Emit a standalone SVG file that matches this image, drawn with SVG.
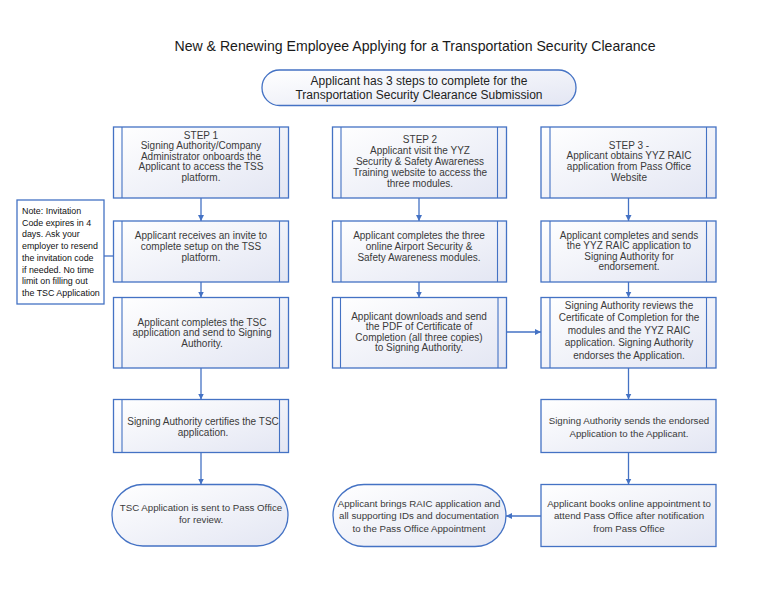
<svg xmlns="http://www.w3.org/2000/svg" width="768" height="594" viewBox="0 0 768 594">
<defs>
<linearGradient id="g" x1="0" y1="0" x2="1" y2="1">
<stop offset="0" stop-color="#ffffff"/>
<stop offset="1" stop-color="#e3e6f3"/>
</linearGradient>
<marker id="ah" markerWidth="8" markerHeight="8" refX="6" refY="3.5" orient="auto" markerUnits="userSpaceOnUse">
<path d="M0,0.5 L6,3.5 L0,6.5 Z" fill="#4472c4"/>
</marker>
<style>
.box{fill:url(#g);stroke:#4472c4;stroke-width:1.3}
.in{stroke:#4472c4;stroke-width:1.1;fill:none}
.t{font-family:"Liberation Sans",Arial,sans-serif;font-size:10px;fill:#3a3a3a;text-anchor:middle}
.s{font-size:9.7px}
.note{font-family:"Liberation Sans",Arial,sans-serif;font-size:8.9px;fill:#111}
.c{stroke:#4472c4;stroke-width:1.3;fill:none}
.ca{stroke:#4472c4;stroke-width:1.3;fill:none;marker-end:url(#ah)}
</style>
</defs>
<rect width="768" height="594" fill="#ffffff"/>
<text x="415" y="51" font-family="Liberation Sans,Arial,sans-serif" font-size="14.1" fill="#1a1a1a" text-anchor="middle">New &amp; Renewing Employee Applying for a Transportation Security Clearance</text>

<g id="start">
<rect x="262" y="70" width="314" height="35.5" rx="17.5" class="box"/>
<text x="419" y="85" font-family="Liberation Sans,Arial,sans-serif" font-size="12" fill="#222" text-anchor="middle">Applicant has 3 steps to complete for the</text>
<text x="419" y="98.5" font-family="Liberation Sans,Arial,sans-serif" font-size="12" fill="#222" text-anchor="middle">Transportation Security Clearance Submission</text>
</g>

<g id="note">
<rect x="17" y="200" width="87" height="104" fill="#ffffff" stroke="#4472c4" stroke-width="1.3"/>
<text class="note" x="22" y="214">Note: Invitation</text>
<text class="note" x="22" y="225.7">Code expires in 4</text>
<text class="note" x="22" y="237.4">days. Ask your</text>
<text class="note" x="22" y="249.1">employer to resend</text>
<text class="note" x="22" y="260.8">the invitation code</text>
<text class="note" x="22" y="272.5">if needed. No time</text>
<text class="note" x="22" y="284.2">limit on filling out</text>
<text class="note" x="22" y="295.9">the TSC Application</text>
</g>

<!-- Column 1 -->
<g id="s1a">
<rect x="113.5" y="127" width="175" height="71" class="box"/>
<path class="in" d="M122,127V198M279.5,127V198"/>
<text class="t" x="201" y="138.5">STEP 1</text>
<text class="t" x="201" y="149">Signing Authority/Company</text>
<text class="t" x="201" y="159.5">Administrator onboards the</text>
<text class="t" x="201" y="170">Applicant to access the TSS</text>
<text class="t" x="201" y="180.5">platform.</text>
</g>
<g id="s1b">
<rect x="113.5" y="221" width="175" height="61" class="box"/>
<path class="in" d="M122,221V282M279.5,221V282"/>
<text class="t" x="201" y="238.5">Applicant receives an invite to</text>
<text class="t" x="201" y="249.5">complete setup on the TSS</text>
<text class="t" x="201" y="260.5">platform.</text>
</g>
<g id="s1c">
<rect x="113.5" y="297.5" width="175" height="70.5" class="box"/>
<path class="in" d="M122,297.5V368M279.5,297.5V368"/>
<text class="t" x="202" y="325.5">Applicant completes the TSC</text>
<text class="t" x="202" y="336">application and send to Signing</text>
<text class="t" x="202" y="346.5">Authority.</text>
</g>
<g id="s1d">
<rect x="113.5" y="399.5" width="175" height="53" class="box"/>
<path class="in" d="M122,399.5V452.5M279.5,399.5V452.5"/>
<text class="t" x="203" y="424.5">Signing Authority certifies the TSC</text>
<text class="t" x="203" y="435.5">application.</text>
</g>
<g id="s1e">
<rect x="112" y="484.5" width="176" height="61.5" rx="31" ry="31" class="box"/>
<text class="t s" x="201" y="511">TSC Application is sent to Pass Office</text>
<text class="t s" x="201" y="523">for review.</text>
</g>

<!-- Column 2 -->
<g id="s2a">
<rect x="332.5" y="127" width="174" height="71" class="box"/>
<path class="in" d="M341,127V198M497.5,127V198"/>
<text class="t" x="420" y="143">STEP 2</text>
<text class="t" x="420" y="154">Applicant visit the YYZ</text>
<text class="t" x="420" y="165">Security &amp; Safety Awareness</text>
<text class="t" x="420" y="176">Training website to access the</text>
<text class="t" x="420" y="187">three modules.</text>
</g>
<g id="s2b">
<rect x="332.5" y="221" width="174" height="61" class="box"/>
<path class="in" d="M341,221V282M497.5,221V282"/>
<text class="t" x="419" y="238.5">Applicant completes the three</text>
<text class="t" x="419" y="249.5">online Airport Security &amp;</text>
<text class="t" x="419" y="260.5">Safety Awareness modules.</text>
</g>
<g id="s2c">
<rect x="332.5" y="297.5" width="174" height="70.5" class="box"/>
<path class="in" d="M340.5,297.5V368M498,297.5V368"/>
<text class="t" x="419" y="319.5">Applicant downloads and send</text>
<text class="t" x="419" y="330">the PDF of Certificate of</text>
<text class="t" x="419" y="340.5">Completion (all three copies)</text>
<text class="t" x="419" y="351">to Signing Authority.</text>
</g>
<g id="s2e">
<rect x="333" y="484.5" width="173" height="62" rx="31" ry="31" class="box"/>
<text class="t s" x="419" y="506.5">Applicant brings RAIC application and</text>
<text class="t s" x="419" y="519">all supporting IDs and documentation</text>
<text class="t s" x="419" y="531.5">to the Pass Office Appointment</text>
</g>

<!-- Column 3 -->
<g id="s3a">
<rect x="541" y="127" width="175" height="71" class="box"/>
<path class="in" d="M550,127V198M706.5,127V198"/>
<text class="t" x="629" y="148.5">STEP 3 -</text>
<text class="t" x="629" y="159">Applicant obtains YYZ RAIC</text>
<text class="t" x="629" y="170">application from Pass Office</text>
<text class="t" x="629" y="180.5">Website</text>
</g>
<g id="s3b">
<rect x="541" y="221" width="175" height="61" class="box"/>
<path class="in" d="M550,221V282M706.5,221V282"/>
<text class="t" x="629" y="238.5">Applicant completes and sends</text>
<text class="t" x="629" y="249">the YYZ RAIC application to</text>
<text class="t" x="629" y="259.5">Signing Authority for</text>
<text class="t" x="629" y="270">endorsement.</text>
</g>
<g id="s3c">
<rect x="541" y="297.5" width="175" height="70.5" class="box"/>
<path class="in" d="M550,297.5V368M706.5,297.5V368"/>
<text class="t" x="629" y="308.5">Signing Authority reviews the</text>
<text class="t" x="629" y="321">Certificate of Completion for the</text>
<text class="t" x="629" y="333.5">modules and the YYZ RAIC</text>
<text class="t" x="629" y="346">application. Signing Authority</text>
<text class="t" x="629" y="358.5">endorses the Application.</text>
</g>
<g id="s3d">
<rect x="541" y="399.5" width="175" height="53" class="box"/>
<text class="t s" x="629" y="423.5">Signing Authority sends the endorsed</text>
<text class="t s" x="629" y="437">Application to the Applicant.</text>
</g>
<g id="s3e">
<rect x="541" y="484.5" width="175" height="62" class="box"/>
<text class="t s" x="629" y="506.5">Applicant books online appointment to</text>
<text class="t s" x="629" y="519">attend Pass Office after notification</text>
<text class="t s" x="629" y="531.5">from Pass Office</text>
</g>

<g id="connectors">
<path class="c" d="M104,256H113.5"/>
<path class="ca" d="M201,198V221"/>
<path class="ca" d="M201,282V297.5"/>
<path class="ca" d="M201,368V399.5"/>
<path class="ca" d="M201,452.5V484.5"/>
<path class="ca" d="M419,198V221"/>
<path class="ca" d="M419,282V297.5"/>
<path class="ca" d="M628.5,198V221"/>
<path class="ca" d="M628.5,282V297.5"/>
<path class="ca" d="M628.5,368V399.5"/>
<path class="ca" d="M628.5,452.5V484.5"/>
<path class="ca" d="M506.5,332H541"/>
<path class="ca" d="M541,516H506"/>
</g>
</svg>
